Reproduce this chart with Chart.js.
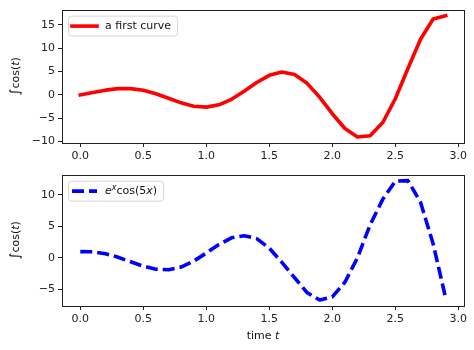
<!DOCTYPE html>
<html>
<head>
<meta charset="utf-8">
<script src="https://cdn.jsdelivr.net/npm/chart.js@4.4.1/dist/chart.umd.min.js"></script>
<style>
  html, body { margin: 0; padding: 0; background: #fff; }
  #wrap { position: relative; width: 474px; height: 350px; }
  #wrap canvas { position: absolute; left: 0; }
</style>
</head>
<body>
<div id="wrap">
  <canvas id="topChart" width="474" height="165" style="top:0"></canvas>
  <canvas id="bottomChart" width="474" height="185" style="top:165px"></canvas>
</div>
<script>
// data
const times = [0.0, 0.1, 0.2, 0.3, 0.4, 0.5, 0.6, 0.7, 0.8, 0.9,
               1.0, 1.1, 1.2, 1.3, 1.4, 1.5, 1.6, 1.7, 1.8, 1.9,
               2.0, 2.1, 2.2, 2.3, 2.4, 2.5, 2.6, 2.7, 2.8, 2.9];
const firstCurve = [0.0, 0.53, 1.03, 1.35, 1.36, 0.99, 0.26, -0.71, -1.69, -2.41,
                    -2.61, -2.12, -0.93, 0.79, 2.67, 4.20, 4.90, 4.37, 2.49, -0.50,
                    -4.02, -7.19, -9.00, -8.73, -5.92, -0.81, 5.66, 11.95, 16.29, 16.99];
const expCos = [1.00, 0.97, 0.66, 0.10, -0.62, -1.32, -1.80, -1.88, -1.45, -0.52,
                0.77, 2.13, 3.19, 3.52, 3.06, 1.55, -0.72, -3.15, -5.51, -6.69,
                -6.20, -3.87, 0.04, 5.26, 9.30, 12.18, 12.28, 8.84, 2.25, -6.44];
const xTicks = [0.0, 0.5, 1.0, 1.5, 2.0, 2.5, 3.0];
const topYTicks = [-10, -5, 0, 5, 10, 15];
const bottomYTicks = [-5, 0, 5, 10];

const FONT = "DejaVu Sans";
const FS = 11;
const LW = 3.6;

function points(ys) {
    return times.map((t, i) => ({ x: t, y: ys[i] }));
}

// draw text pieces one after another, each with its own style
function drawRuns(ctx, runs, x, y) {
    let cx = x;
    runs.forEach(r => {
        ctx.font = (r.italic ? "italic " : "") + (r.size || FS) + "px " + FONT;
        ctx.fillText(r.text, cx, y + (r.dy || 0));
        cx += ctx.measureText(r.text).width;
    });
    return cx - x;
}

function runsWidth(ctx, runs) {
    let w = 0;
    runs.forEach(r => {
        ctx.font = (r.italic ? "italic " : "") + (r.size || FS) + "px " + FONT;
        w += ctx.measureText(r.text).width;
    });
    return w;
}

// frame, legend and axis labels like matplotlib
const decorPlugin = {
    id: 'decor',
    afterDraw(chart, args, opts) {
        const ctx = chart.ctx;
        const a = chart.chartArea;
        ctx.save();

        //Frame
        ctx.strokeStyle = '#222';
        ctx.lineWidth = 1;
        ctx.strokeRect(Math.round(a.left) + 0.5, Math.round(a.top) + 0.5,
                       Math.round(a.right - a.left), Math.round(a.bottom - a.top));

        //Legend box
        const bx = a.left + 6, by = a.top + opts.legendTop;
        const textW = runsWidth(ctx, opts.legendRuns);
        const bw = 37 + textW + 6, bh = 20;
        ctx.beginPath();
        ctx.roundRect(bx + 0.5, by + 0.5, bw, bh, 3);
        ctx.fillStyle = 'rgba(255,255,255,0.8)';
        ctx.fill();
        ctx.strokeStyle = '#d6d6d6';
        ctx.stroke();

        //Legend line sample
        ctx.beginPath();
        ctx.strokeStyle = opts.color;
        ctx.lineWidth = LW;
        ctx.setLineDash(opts.dash || []);
        ctx.lineCap = opts.dash ? 'butt' : 'square';
        ctx.moveTo(bx + 4, by + bh / 2 + 0.5);
        ctx.lineTo(bx + 29, by + bh / 2 + 0.5);
        ctx.stroke();
        ctx.setLineDash([]);

        //Legend text
        ctx.fillStyle = '#111';
        ctx.textBaseline = 'middle';
        ctx.textAlign = 'left';
        drawRuns(ctx, opts.legendRuns, bx + 37, by + bh / 2 + 1);

        //Y label
        const yRuns = [{ text: '\u222B', size: 13 }, { text: 'cos(' }, { text: 't', italic: true }, { text: ')' }];
        const yw = runsWidth(ctx, yRuns);
        ctx.save();
        ctx.translate(16, (a.top + a.bottom) / 2);
        ctx.rotate(-Math.PI / 2);
        drawRuns(ctx, yRuns, -yw / 2, 0);
        ctx.restore();

        //X label
        if (opts.xLabel) {
            const xRuns = [{ text: 'time ' }, { text: 't', italic: true }];
            const xw = runsWidth(ctx, xRuns);
            drawRuns(ctx, xRuns, (a.left + a.right) / 2 - xw / 2, a.bottom + 30);
        }
        ctx.restore();
    }
};

function makeChart(id, ys, color, dash, yMin, yMax, yTicks, padTop, xAxisHeight, decor) {
    const dataset = {
        data: points(ys),
        borderColor: color,
        borderWidth: LW,
        pointRadius: 0,
        tension: 0,
        borderJoinStyle: 'round',
        borderCapStyle: dash ? 'butt' : 'square',
        fill: false
    };
    if (dash) dataset.borderDash = dash;

    return new Chart(document.getElementById(id), {
        type: 'line',
        data: { datasets: [dataset] },
        options: {
            responsive: false,
            animation: false,
            layout: { padding: { left: 0, right: 10, top: padTop, bottom: 0 } },
            plugins: {
                legend: { display: false },
                tooltip: { enabled: false },
                decor: decor
            },
            scales: {
                x: {
                    type: 'linear',
                    min: -0.145,
                    max: 3.045,
                    afterBuildTicks: s => { s.ticks = xTicks.map(v => ({ value: v })); },
                    afterFit: s => { s.height = xAxisHeight; },
                    grid: { drawOnChartArea: false, drawTicks: true, tickLength: 4, color: '#222' },
                    border: { display: false },
                    ticks: {
                        padding: 3,
                        maxRotation: 0,
                        color: '#222',
                        font: { family: FONT, size: FS },
                        callback: v => v.toFixed(1)
                    }
                },
                y: {
                    min: yMin,
                    max: yMax,
                    afterBuildTicks: s => { s.ticks = yTicks.map(v => ({ value: v })); },
                    afterFit: s => { s.width = 62; },
                    grid: { drawOnChartArea: false, drawTicks: true, tickLength: 4, color: '#222' },
                    border: { display: false },
                    ticks: {
                        padding: 3,
                        color: '#222',
                        font: { family: FONT, size: FS },
                        callback: v => (v < 0 ? '\u2212' + Math.abs(v) : String(v))
                    }
                }
            }
        },
        plugins: [decorPlugin]
    });
}

//Top chart
makeChart('topChart', firstCurve, '#ff0000', null, -10.3, 18.3, topYTicks, 7, 22, {
    color: '#ff0000',
    legendTop: 6,
    legendRuns: [{ text: 'a first curve' }],
    xLabel: false
});

//Bottom chart
makeChart('bottomChart', expCos, '#0000ff', [12, 5], -7.64, 13.23, bottomYTicks, 6, 44, {
    color: '#0000ff',
    dash: [12, 5],
    legendTop: 6,
    legendRuns: [
        { text: 'e', italic: true },
        { text: 'x', italic: true, size: 8, dy: -4 },
        { text: 'cos(5' },
        { text: 'x', italic: true },
        { text: ')' }
    ],
    xLabel: true
});
</script>
</body>
</html>
